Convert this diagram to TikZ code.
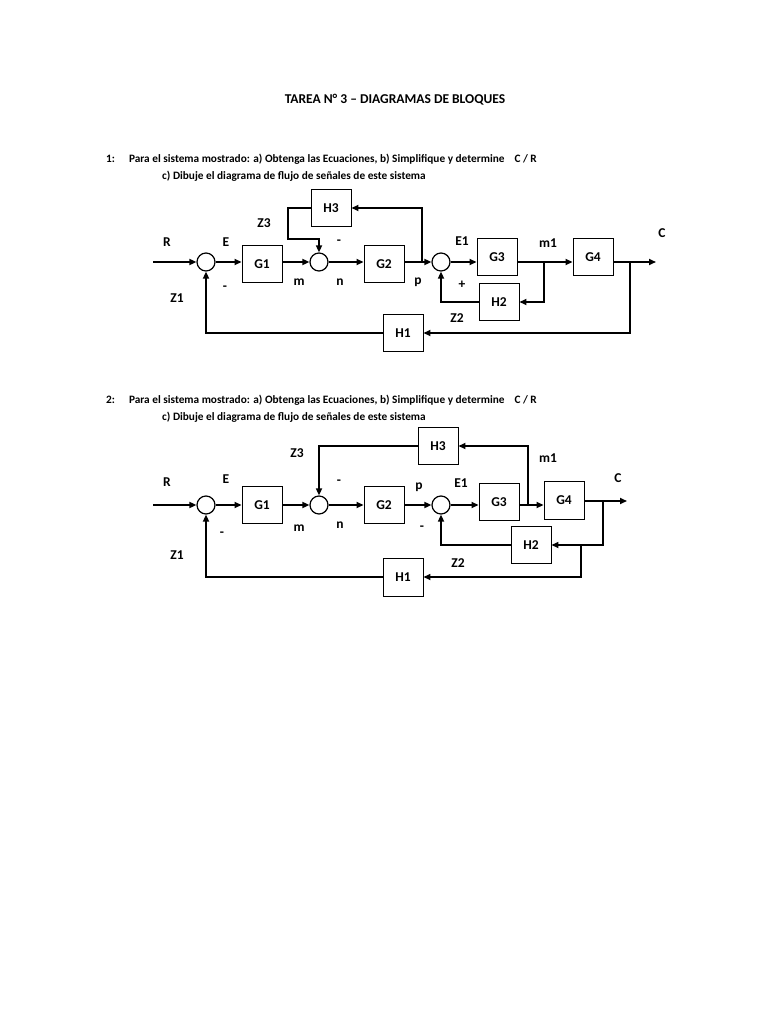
\documentclass[tikz,border=0pt]{standalone}
\usepackage{fontspec}
\setmainfont{Carlito}
\usetikzlibrary{arrows.meta}

\begin{document}
\begin{tikzpicture}[x=1pt,y=-1pt,
    every node/.style={font=\bfseries\fontsize{13.5}{15}\selectfont},
    txt/.style={inner sep=0pt,anchor=west,font=\bfseries\fontsize{11.3}{13}\selectfont},
    blk/.style={draw,line width=0.9pt,minimum width=40pt,minimum height=37pt,inner sep=0pt},
    sumj/.style={draw,circle,line width=1.2pt,minimum size=18pt,inner sep=0pt},
    sig/.style={line width=1.6pt},
    arr/.style={sig,-{Triangle[length=7pt,width=6pt]}},
    lbl/.style={inner sep=0pt}]
    \useasboundingbox (0,0) rectangle (768,1024);

    % enunciado
    \node[lbl] (titulo) at (395,100) {TAREA N° 3 – DIAGRAMAS DE BLOQUES};
    \node[txt] (enA) at (106,159) {1:\hspace{14pt}Para el sistema mostrado: a) Obtenga las Ecuaciones, b) Simplifique y determine\hspace{10pt}C / R};
    \node[txt] (enAc) at (162,176) {c) Dibuje el diagrama de flujo de señales de este sistema};

    % sistema 1
    \node[sumj] (sA1) at (206,262) {};
    \node[blk] (gA1) at (262,264) {G1};
    \node[sumj] (sA2) at (319,262) {};
    \node[blk] (gA2) at (384,264) {G2};
    \node[sumj] (sA3) at (441,262) {};
    \node[blk] (gA3) at (497,257) {G3};
    \node[blk] (gA4) at (593,257) {G4};
    \node[blk] (hA3) at (331,208) {H3};
    \node[blk] (hA2) at (499,302) {H2};
    \node[blk] (hA1) at (403,333) {H1};
    \coordinate (inA) at (153,262);
    \coordinate (outA) at (656,262);
    \coordinate (pA) at (422,262);
    \coordinate (zA3) at (288,239);
    \coordinate (mA) at (544,262);
    \coordinate (cA) at (630,262);

    \draw[arr] (inA) -- (sA1.west);
    \draw[arr] (sA1.east) -- (sA1.east -| gA1.west);
    \draw[arr] (gA1.east |- sA2) -- (sA2.west);
    \draw[arr] (sA2.east) -- (sA2.east -| gA2.west);
    \draw[arr] (gA2.east |- sA3) -- (sA3.west);
    \draw[arr] (pA) |- (hA3.east);
    \draw[arr] (hA3.west) -| (zA3) -| (sA2.north);
    \draw[arr] (sA3.east) -- (sA3.east -| gA3.west);
    \draw[arr] (gA3.east |- mA) -- (mA -| gA4.west);
    \draw[arr] (mA) |- (hA2.east);
    \draw[arr] (hA2.west) -| (sA3.south);
    \draw[arr] (gA4.east |- outA) -- (outA);
    \draw[arr] (cA) |- (hA1.east);
    \draw[arr] (hA1.west) -| (sA1.south);

    \node[lbl] (rA) at (167,242) {R};
    \node[lbl] (eA) at (226,242) {E};
    \node[lbl] (nsA1) at (225,288) {-};
    \node[lbl] (z1A) at (177,298) {Z1};
    \node[lbl] (z3A) at (264,223) {Z3};
    \node[lbl] (nsA2) at (339,242) {-};
    \node[lbl] (mlA) at (299,282) {m};
    \node[lbl] (nlA) at (340,282) {n};
    \node[lbl] (plA) at (418,282) {p};
    \node[lbl] (e1A) at (462,241) {E1};
    \node[lbl] (psA3) at (462,285) {+};
    \node[lbl] (z2A) at (457,318) {Z2};
    \node[lbl] (m1A) at (548,243) {m1};
    \node[lbl] (cA) at (662,233) {C};

    % enunciado 2
    \node[txt] (enB) at (106,400) {2:\hspace{14pt}Para el sistema mostrado: a) Obtenga las Ecuaciones, b) Simplifique y determine\hspace{10pt}C / R};
    \node[txt] (enBc) at (162,417) {c) Dibuje el diagrama de flujo de señales de este sistema};

    % sistema 2
    \node[sumj] (sB1) at (206,505) {};
    \node[blk] (gB1) at (262,505) {G1};
    \node[sumj] (sB2) at (319,505) {};
    \node[blk] (gB2) at (384,505) {G2};
    \node[sumj] (sB3) at (441,505) {};
    \node[blk] (gB3) at (499,502) {G3};
    \node[blk,minimum height=38pt] (gB4) at (564,500) {G4};
    \node[blk] (hB3) at (438,446) {H3};
    \node[blk] (hB2) at (531,545) {H2};
    \node[blk,minimum height=38pt] (hB1) at (403,577) {H1};
    \coordinate (inB) at (153,505);
    \coordinate (outB) at (627,501);
    \coordinate (mB) at (528,505);
    \coordinate (cB) at (603,501);
    \coordinate (zB2) at (581,545);

    \draw[arr] (inB) -- (sB1.west);
    \draw[arr] (sB1.east) -- (gB1.west);
    \draw[arr] (gB1.east) -- (sB2.west);
    \draw[arr] (sB2.east) -- (gB2.west);
    \draw[arr] (gB2.east) -- (sB3.west);
    \draw[arr] (sB3.east) -- (sB3.east -| gB3.west);
    \draw[arr] (gB3.east |- mB) -- (mB -| gB4.west);
    \draw[arr] (mB) |- (hB3.east);
    \draw[arr] (hB3.west) -| (sB2.north);
    \draw[arr] (gB4.east |- outB) -- (outB);
    \draw[arr] (cB) |- (hB2.east);
    \draw[arr] (hB2.west) -| (sB3.south);
    \draw[arr] (zB2) |- (hB1.east);
    \draw[arr] (hB1.west) -| (sB1.south);

    \node[lbl] (rB) at (167,482) {R};
    \node[lbl] (eB) at (226,479) {E};
    \node[lbl] (nsB1) at (222,534) {-};
    \node[lbl] (z1B) at (177,555) {Z1};
    \node[lbl] (z3B) at (297,453) {Z3};
    \node[lbl] (nsB2) at (339,482) {-};
    \node[lbl] (mlB) at (299,528) {m};
    \node[lbl] (nlB) at (340,525) {n};
    \node[lbl] (plB) at (419,487) {p};
    \node[lbl] (e1B) at (461,483) {E1};
    \node[lbl] (nsB3) at (422,528) {-};
    \node[lbl] (z2B) at (458,563) {Z2};
    \node[lbl] (m1B) at (548,458) {m1};
    \node[lbl] (cB) at (618,478) {C};
\end{tikzpicture}
\end{document}
